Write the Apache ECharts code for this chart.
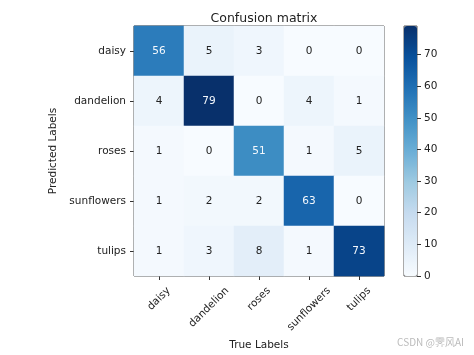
<!DOCTYPE html>
<html><head><meta charset="utf-8">
<script src="https://cdn.jsdelivr.net/npm/echarts@6/dist/echarts.min.js"></script>
<style>html,body{margin:0;padding:0;background:#fff}#c{width:474px;height:355px}</style>
</head><body><div id="c"></div>
<script>
const trueLabels = ['daisy','dandelion','roses','sunflowers','tulips'];
const predLabels = ['daisy','dandelion','roses','sunflowers','tulips'];
const row_daisy = [56,5,3,0,0];
const row_dandelion = [4,79,0,4,1];
const row_roses = [1,0,51,1,5];
const row_sunflowers = [1,2,2,63,0];
const row_tulips = [1,3,8,1,73];
const colorbarTicks = [0,10,20,30,40,50,60,70];
const matrix = [row_daisy,row_dandelion,row_roses,row_sunflowers,row_tulips];
const vmax = 79;
const thresh = vmax/2;
const blues = ['#f7fbff','#deebf7','#c6dbef','#9ecae1','#6baed6','#4292c6','#2171b5','#08519c','#08306b'];
const FONT = 'DejaVu Sans';
const FS = 10.5;
const data = [];
matrix.forEach((row,i)=>row.forEach((v,j)=>{
  data.push({value:[j,i,v],label:{color: v>thresh ? '#f4f8fd' : '#222222'}});
}));
// matplotlib-like rotated tick labels (bbox centred under tick, top just below axis)
const ctx = document.createElement('canvas').getContext('2d');
ctx.font = FS + 'px "' + FONT + '"';
const xRich = {};
trueLabels.forEach((t,i)=>{
  const L = ctx.measureText(t).width;
  xRich['l'+i] = {fontSize:FS, fontFamily:FONT, color:'#222', padding:[L/2, L/2, 0, 0]};
});
const chart = echarts.init(document.getElementById('c'));
chart.setOption({
  animation:false,
  textStyle:{fontFamily:FONT},
  title:{text:'Confusion matrix',left:259,top:7,textAlign:'center',
    textStyle:{fontFamily:FONT,fontSize:12.5,fontWeight:'normal',color:'#222'}},
  graphic:[{type:'text',right:10,bottom:8,style:{text:'CSDN @霁风AI',fill:'#bbbbbb',fontSize:10,fontFamily:'Noto Sans CJK SC'}}],
  grid:[
    {left:134,top:26,width:250,height:250,show:true,borderColor:'#333',borderWidth:1,backgroundColor:'transparent',outerBoundsMode:'none',containLabel:false},
    {left:404,top:26,width:13,height:250,show:true,borderColor:'#555',borderWidth:1,backgroundColor:'transparent',outerBoundsMode:'none',containLabel:false}
  ],
  xAxis:[
    {type:'category',gridIndex:0,data:trueLabels,position:'bottom',
      name:'True Labels',nameLocation:'middle',nameGap:58,
      nameTextStyle:{fontFamily:FONT,fontSize:FS,color:'#222'},
      axisLine:{show:false},axisTick:{show:true,alignWithLabel:true,length:4,lineStyle:{color:'#333'}},
      axisLabel:{rotate:45,interval:0,align:'center',verticalAlign:'middle',fontSize:FS,color:'#222',margin:13,fontFamily:FONT,
        formatter:(v,i)=>'{l'+i+'|'+v+'}', rich:xRich},
      splitLine:{show:false}},
    {type:'category',gridIndex:1,data:[''],show:false}
  ],
  yAxis:[
    {type:'category',gridIndex:0,data:predLabels,inverse:true,
      name:'Predicted Labels',nameLocation:'middle',nameGap:61,nameRotate:90,
      nameTextStyle:{fontFamily:FONT,fontSize:FS,color:'#222'},
      axisLine:{show:false},axisTick:{show:true,alignWithLabel:true,length:4,lineStyle:{color:'#333'}},
      axisLabel:{fontSize:FS,color:'#222',margin:8,fontFamily:FONT},splitLine:{show:false}},
    {type:'value',gridIndex:1,min:0,max:vmax,interval:10,position:'right',
      axisLine:{show:false},
      axisTick:{show:true,length:4,lineStyle:{color:'#333'},customValues:colorbarTicks},
      axisLabel:{fontSize:FS,color:'#222',margin:7,fontFamily:FONT,customValues:colorbarTicks},
      splitLine:{show:false}}
  ],
  visualMap:{type:'continuous',min:0,max:vmax,seriesIndex:0,calculable:false,
    left:404,top:26,itemWidth:13,itemHeight:250,padding:0,text:['',''],textGap:0,
    inRange:{color:blues},orient:'vertical'},
  series:[{type:'heatmap',xAxisIndex:0,yAxisIndex:0,data:data,
    label:{show:true,fontSize:FS,fontFamily:FONT},
    itemStyle:{borderWidth:0},emphasis:{disabled:true}}]
});
</script></body></html>
